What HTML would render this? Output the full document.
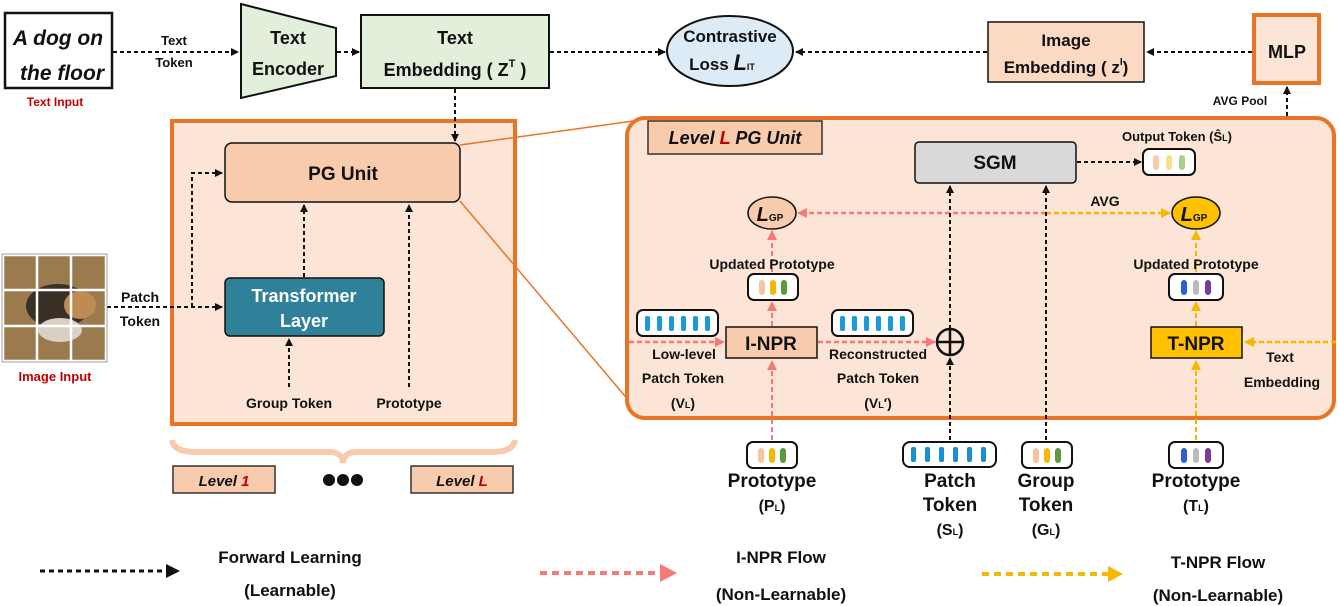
<!DOCTYPE html>
<html><head><meta charset="utf-8"><style>
html,body{margin:0;padding:0;background:#fff}
svg{display:block}
text{font-family:"Liberation Sans",sans-serif;font-weight:bold;fill:#111}
</style></head><body>
<svg width="1339" height="606" viewBox="0 0 1339 606" xmlns="http://www.w3.org/2000/svg">
<defs>
<marker id="ab" markerWidth="8" markerHeight="8" refX="7" refY="4" orient="auto" markerUnits="userSpaceOnUse"><path d="M0,0 L8,4 L0,8z" fill="#111"/></marker>
<marker id="ap" markerWidth="10" markerHeight="10" refX="9" refY="5" orient="auto" markerUnits="userSpaceOnUse"><path d="M0,0 L10,5 L0,10z" fill="#f47a7a"/></marker>
<marker id="ay" markerWidth="10" markerHeight="10" refX="9" refY="5" orient="auto" markerUnits="userSpaceOnUse"><path d="M0,0 L10,5 L0,10z" fill="#f5b800"/></marker>
<g id="tok6"><rect x="0" y="0" width="81" height="26" rx="6" fill="#fff" stroke="#111" stroke-width="2"/>
<g fill="#1a9ad6"><rect x="8" y="6" width="5" height="15" rx="2"/><rect x="20" y="6" width="5" height="15" rx="2"/><rect x="32" y="6" width="5" height="15" rx="2"/><rect x="44" y="6" width="5" height="15" rx="2"/><rect x="56" y="6" width="5" height="15" rx="2"/><rect x="68" y="6" width="5" height="15" rx="2"/></g></g>
<g id="tok3a"><rect x="0" y="0" width="50" height="26" rx="6" fill="#fff" stroke="#111" stroke-width="2"/>
<rect x="11" y="6" width="6" height="15" rx="3" fill="#f5c4a0"/><rect x="22" y="6" width="6" height="15" rx="3" fill="#f5b800"/><rect x="33" y="6" width="6" height="15" rx="3" fill="#5a9a3a"/></g>
<g id="tok3b"><rect x="0" y="0" width="54" height="26" rx="6" fill="#fff" stroke="#111" stroke-width="2"/>
<rect x="12" y="6" width="6" height="15" rx="3" fill="#2f5fd0"/><rect x="24" y="6" width="6" height="15" rx="3" fill="#bbb"/><rect x="36" y="6" width="6" height="15" rx="3" fill="#7a3a9a"/></g>
</defs>

<!-- top row -->
<rect x="5" y="13" width="107" height="75" fill="#fff" stroke="#111" stroke-width="2.5"/>
<text x="58" y="45" font-size="21" font-style="italic" text-anchor="middle">A dog on</text>
<text x="62" y="80" font-size="21" font-style="italic" text-anchor="middle">the floor</text>
<text x="55" y="106" font-size="12" text-anchor="middle" style="fill:#c00000">Text Input</text>
<text x="174" y="45" font-size="13" text-anchor="middle">Text</text>
<text x="174" y="67" font-size="13" text-anchor="middle">Token</text>
<line x1="113" y1="52" x2="238" y2="52" stroke="#111" stroke-width="2" stroke-dasharray="4,3" marker-end="url(#ab)"/>
<path d="M241,4 L336,28 L336,76 L241,98z" fill="#e2efda" stroke="#111" stroke-width="2"/>
<text x="288" y="44" font-size="18" text-anchor="middle">Text</text>
<text x="288" y="75" font-size="18" text-anchor="middle">Encoder</text>
<line x1="337" y1="52" x2="359" y2="52" stroke="#111" stroke-width="2" stroke-dasharray="4,3" marker-end="url(#ab)"/>
<rect x="361" y="15" width="188" height="73" fill="#e2efda" stroke="#111" stroke-width="2"/>
<text x="455" y="44" font-size="18" text-anchor="middle">Text</text>
<text x="455" y="76" font-size="18" text-anchor="middle">Embedding ( Z<tspan font-size="11" dy="-9">T</tspan><tspan dy="9"> )</tspan></text>
<line x1="550" y1="52" x2="665" y2="52" stroke="#111" stroke-width="2" stroke-dasharray="4,3" marker-end="url(#ab)"/>
<ellipse cx="730" cy="51" rx="63" ry="35" fill="#ddebf7" stroke="#111" stroke-width="2"/>
<text x="730" y="42" font-size="17" text-anchor="middle">Contrastive</text>
<text x="722" y="70" font-size="17" text-anchor="middle">Loss <tspan font-size="22" font-style="italic">L</tspan><tspan font-size="9">IT</tspan></text>
<line x1="987" y1="52" x2="796" y2="52" stroke="#111" stroke-width="2" stroke-dasharray="4,3" marker-end="url(#ab)"/>
<rect x="988" y="22" width="156" height="60" fill="#fbd9c2" stroke="#111" stroke-width="1.5"/>
<text x="1066" y="46" font-size="17" text-anchor="middle">Image</text>
<text x="1066" y="73" font-size="17" text-anchor="middle">Embedding ( z<tspan font-size="10" dy="-8">I</tspan><tspan dy="8">)</tspan></text>
<line x1="1252" y1="52" x2="1147" y2="52" stroke="#111" stroke-width="2" stroke-dasharray="4,3" marker-end="url(#ab)"/>
<rect x="1254" y="15" width="65" height="68" fill="#fce5d6" stroke="#e97424" stroke-width="4"/>
<text x="1287" y="58" font-size="18" text-anchor="middle">MLP</text>
<text x="1240" y="105" font-size="12" text-anchor="middle">AVG Pool</text>
<path d="M1196,158 L1287,158 L1287,87" fill="none" stroke="#111" stroke-width="2" stroke-dasharray="4,3" marker-end="url(#ab)"/>

<!-- left block -->
<rect x="172" y="121" width="343" height="303" fill="#fce5d6" stroke="#e97424" stroke-width="4"/>
<line x1="455" y1="89" x2="455" y2="141" stroke="#111" stroke-width="2" stroke-dasharray="4,3" marker-end="url(#ab)"/>
<rect x="225" y="143" width="235" height="59" rx="7" fill="#f8cbad" stroke="#111" stroke-width="1.5"/>
<text x="343" y="180" font-size="19" text-anchor="middle">PG Unit</text>
<rect x="225" y="278" width="159" height="58" rx="5" fill="#2e8199" stroke="#111" stroke-width="1.5"/>
<text x="304" y="302" font-size="18" text-anchor="middle" style="fill:#fff">Transformer</text>
<text x="304" y="327" font-size="18" text-anchor="middle" style="fill:#fff">Layer</text>
<line x1="304" y1="277" x2="304" y2="205" stroke="#111" stroke-width="2" stroke-dasharray="4,3" marker-end="url(#ab)"/>
<line x1="409" y1="387" x2="409" y2="205" stroke="#111" stroke-width="2" stroke-dasharray="4,3" marker-end="url(#ab)"/>
<line x1="289" y1="387" x2="289" y2="339" stroke="#111" stroke-width="2" stroke-dasharray="4,3" marker-end="url(#ab)"/>
<path d="M192,307 L192,173 L222,173" fill="none" stroke="#111" stroke-width="2" stroke-dasharray="4,3" marker-end="url(#ab)"/>
<line x1="107" y1="307" x2="222" y2="307" stroke="#111" stroke-width="2" stroke-dasharray="4,3" marker-end="url(#ab)"/>
<text x="289" y="408" font-size="14" text-anchor="middle">Group Token</text>
<text x="409" y="408" font-size="14" text-anchor="middle">Prototype</text>
<text x="140" y="302" font-size="14" text-anchor="middle">Patch</text>
<text x="140" y="326" font-size="14" text-anchor="middle">Token</text>
<!-- image -->
<rect x="3" y="255" width="103" height="106" fill="#9b7a4e"/>
<ellipse cx="58" cy="306" rx="32" ry="22" fill="#3a3026"/>
<ellipse cx="80" cy="305" rx="16" ry="14" fill="#c08a55"/>
<ellipse cx="60" cy="330" rx="22" ry="12" fill="#d8d0c4"/>
<g stroke="#fff" stroke-width="2.5" fill="none"><rect x="3" y="255" width="103" height="106"/><line x1="37" y1="255" x2="37" y2="361"/><line x1="71" y1="255" x2="71" y2="361"/><line x1="3" y1="290" x2="106" y2="290"/><line x1="3" y1="326" x2="106" y2="326"/></g>
<rect x="2" y="254" width="105" height="108" fill="none" stroke="#888" stroke-width="0.8"/>
<text x="55" y="381" font-size="13" text-anchor="middle" style="fill:#c00000">Image Input</text>
<!-- brace -->
<path d="M172,440 Q174,452 195,452 L330,452 Q342,452 343,463 Q344,452 356,452 L492,452 Q513,452 515,440" fill="none" stroke="#f8cbad" stroke-width="6"/>
<rect x="173" y="466" width="102" height="27" fill="#f8cbad" stroke="#333" stroke-width="1.5"/>
<text x="224" y="486" font-size="15" font-style="italic" text-anchor="middle">Level <tspan style="fill:#c00000">1</tspan></text>
<circle cx="329" cy="480" r="6" fill="#111"/><circle cx="343" cy="480" r="6" fill="#111"/><circle cx="357" cy="480" r="6" fill="#111"/>
<rect x="411" y="466" width="102" height="27" fill="#f8cbad" stroke="#333" stroke-width="1.5"/>
<text x="462" y="486" font-size="15" font-style="italic" text-anchor="middle">Level <tspan style="fill:#c00000">L</tspan></text>

<!-- zoom lines -->
<line x1="460" y1="145" x2="648" y2="119" stroke="#e97424" stroke-width="1.5"/>
<line x1="460" y1="201" x2="630" y2="402" stroke="#e97424" stroke-width="1.5"/>

<!-- right block -->
<rect x="627" y="118" width="707" height="300" rx="18" fill="#fce5d6" stroke="#e97424" stroke-width="4"/>
<rect x="648" y="121" width="174" height="33" fill="#f8cbad" stroke="#333" stroke-width="1.5"/>
<text x="735" y="144" font-size="18" font-style="italic" text-anchor="middle">Level <tspan style="fill:#c00000">L</tspan> PG Unit</text>
<rect x="915" y="142" width="161" height="41" rx="4" fill="#d9d9d9" stroke="#111" stroke-width="1.5"/>
<text x="995" y="169" font-size="19" text-anchor="middle">SGM</text>
<line x1="1077" y1="162" x2="1141" y2="162" stroke="#111" stroke-width="2" stroke-dasharray="4,3" marker-end="url(#ab)"/>
<text x="1177" y="141" font-size="13" text-anchor="middle">Output Token (Ŝ<tspan font-size="9">L</tspan>)</text>
<rect x="1143" y="149" width="52" height="26" rx="6" fill="#fff" stroke="#111" stroke-width="2"/>
<rect x="1153" y="155" width="6" height="15" rx="3" fill="#f8cbad"/><rect x="1166" y="155" width="6" height="15" rx="3" fill="#fbe08a"/><rect x="1179" y="155" width="6" height="15" rx="3" fill="#a9d18e"/>

<!-- LGP -->
<line x1="1046" y1="213" x2="798" y2="213" stroke="#f47a7a" stroke-width="2.5" stroke-dasharray="5,3" marker-end="url(#ap)"/>
<line x1="1046" y1="213" x2="1170" y2="213" stroke="#f5b800" stroke-width="2.5" stroke-dasharray="5,3" marker-end="url(#ay)"/>
<text x="1105" y="206" font-size="14" text-anchor="middle">AVG</text>
<ellipse cx="772" cy="213" rx="24" ry="16" fill="#f8cbad" stroke="#111" stroke-width="1.5"/>
<text x="770" y="221" font-size="20" font-style="italic" text-anchor="middle">L<tspan font-size="10" font-style="normal">GP</tspan></text>
<ellipse cx="1196" cy="213" rx="24" ry="16" fill="#ffc000" stroke="#111" stroke-width="1.5"/>
<text x="1194" y="221" font-size="20" font-style="italic" text-anchor="middle">L<tspan font-size="10" font-style="normal">GP</tspan></text>

<!-- vertical black lines -->
<line x1="950" y1="440" x2="950" y2="358" stroke="#111" stroke-width="2" stroke-dasharray="4,3" marker-end="url(#ab)"/>
<line x1="950" y1="329" x2="950" y2="186" stroke="#111" stroke-width="2" stroke-dasharray="4,3" marker-end="url(#ab)"/>
<line x1="1046" y1="440" x2="1046" y2="186" stroke="#111" stroke-width="2" stroke-dasharray="4,3" marker-end="url(#ab)"/>

<!-- I-NPR column -->
<line x1="772" y1="440" x2="772" y2="361" stroke="#f47a7a" stroke-width="2" stroke-dasharray="5,3" marker-end="url(#ap)"/>
<line x1="772" y1="326" x2="772" y2="302" stroke="#f47a7a" stroke-width="2" stroke-dasharray="5,3" marker-end="url(#ap)"/>
<line x1="772" y1="272" x2="772" y2="231" stroke="#f47a7a" stroke-width="2" stroke-dasharray="5,3" marker-end="url(#ap)"/>
<line x1="629" y1="342" x2="724" y2="342" stroke="#f47a7a" stroke-width="2.5" stroke-dasharray="5,3" marker-end="url(#ap)"/>
<line x1="818" y1="342" x2="935" y2="342" stroke="#f47a7a" stroke-width="2.5" stroke-dasharray="5,3" marker-end="url(#ap)"/>
<text x="772" y="269" font-size="14" text-anchor="middle">Updated Prototype</text>
<use href="#tok3a" x="748" y="274"/>
<rect x="726" y="327" width="91" height="31" fill="#f8cbad" stroke="#111" stroke-width="1.5"/>
<text x="771" y="350" font-size="19" text-anchor="middle">I-NPR</text>
<use href="#tok6" x="637" y="310"/>
<use href="#tok6" x="832" y="310"/>
<circle cx="950" cy="342" r="13" fill="none" stroke="#111" stroke-width="2.5"/>
<line x1="937" y1="342" x2="963" y2="342" stroke="#111" stroke-width="2.5"/><line x1="950" y1="329" x2="950" y2="355" stroke="#111" stroke-width="2.5"/>
<text x="684" y="359" font-size="14" text-anchor="middle">Low-level</text>
<text x="683" y="383" font-size="14" text-anchor="middle">Patch Token</text>
<text x="683" y="408" font-size="14" text-anchor="middle" font-weight="normal">(V<tspan font-size="9">L</tspan>)</text>
<text x="878" y="359" font-size="14" text-anchor="middle">Reconstructed</text>
<text x="878" y="383" font-size="14" text-anchor="middle">Patch Token</text>
<text x="878" y="408" font-size="14" text-anchor="middle" font-weight="normal">(V<tspan font-size="9">L</tspan>′)</text>

<!-- T-NPR column -->
<line x1="1196" y1="440" x2="1196" y2="361" stroke="#f5b800" stroke-width="2" stroke-dasharray="5,3" marker-end="url(#ay)"/>
<line x1="1196" y1="326" x2="1196" y2="302" stroke="#f5b800" stroke-width="2" stroke-dasharray="5,3" marker-end="url(#ay)"/>
<line x1="1196" y1="272" x2="1196" y2="231" stroke="#f5b800" stroke-width="2" stroke-dasharray="5,3" marker-end="url(#ay)"/>
<line x1="1336" y1="342" x2="1245" y2="342" stroke="#f5b800" stroke-width="2.5" stroke-dasharray="5,3" marker-end="url(#ay)"/>
<text x="1196" y="269" font-size="14" text-anchor="middle">Updated Prototype</text>
<use href="#tok3b" x="1169" y="274"/>
<rect x="1151" y="327" width="91" height="31" fill="#ffc000" stroke="#111" stroke-width="1.5"/>
<text x="1196" y="350" font-size="19" text-anchor="middle">T-NPR</text>
<text x="1280" y="362" font-size="14" text-anchor="middle">Text</text>
<text x="1282" y="387" font-size="14" text-anchor="middle">Embedding</text>

<!-- bottom inputs -->
<use href="#tok3a" x="747" y="442"/>
<text x="772" y="487" font-size="19" text-anchor="middle">Prototype</text>
<text x="772" y="511" font-size="16" text-anchor="middle" font-weight="normal">(P<tspan font-size="9">L</tspan>)</text>
<rect x="903" y="442" width="93" height="25" rx="7" fill="#fff" stroke="#111" stroke-width="2"/>
<g fill="#1a8fd0"><rect x="911" y="447" width="5" height="15" rx="2"/><rect x="925" y="447" width="5" height="15" rx="2"/><rect x="939" y="447" width="5" height="15" rx="2"/><rect x="953" y="447" width="5" height="15" rx="2"/><rect x="967" y="447" width="5" height="15" rx="2"/><rect x="981" y="447" width="5" height="15" rx="2"/></g>
<text x="950" y="487" font-size="19" text-anchor="middle">Patch</text>
<text x="950" y="511" font-size="19" text-anchor="middle">Token</text>
<text x="950" y="535" font-size="16" text-anchor="middle" font-weight="normal">(S<tspan font-size="9">L</tspan>)</text>
<use href="#tok3a" x="1022" y="442"/>
<text x="1046" y="487" font-size="19" text-anchor="middle">Group</text>
<text x="1046" y="511" font-size="19" text-anchor="middle">Token</text>
<text x="1046" y="535" font-size="16" text-anchor="middle" font-weight="normal">(G<tspan font-size="9">L</tspan>)</text>
<use href="#tok3b" x="1169" y="442"/>
<text x="1196" y="487" font-size="19" text-anchor="middle">Prototype</text>
<text x="1196" y="511" font-size="16" text-anchor="middle" font-weight="normal">(T<tspan font-size="9">L</tspan>)</text>

<!-- legend -->
<line x1="40" y1="571" x2="170" y2="571" stroke="#111" stroke-width="3" stroke-dasharray="5,4"/>
<path d="M166,564 L180,571 L166,578z" fill="#111"/>
<text x="290" y="563" font-size="17" text-anchor="middle">Forward Learning</text>
<text x="290" y="596" font-size="17" text-anchor="middle">(Learnable)</text>
<line x1="540" y1="573" x2="662" y2="573" stroke="#f47a7a" stroke-width="4" stroke-dasharray="7,5"/>
<path d="M660,564 L677,573 L660,582z" fill="#f47a7a"/>
<text x="781" y="563" font-size="17" text-anchor="middle">I-NPR Flow</text>
<text x="781" y="600" font-size="17" text-anchor="middle">(Non-Learnable)</text>
<line x1="982" y1="574" x2="1110" y2="574" stroke="#f5b800" stroke-width="4" stroke-dasharray="7,5"/>
<path d="M1108,566 L1123,574 L1108,582z" fill="#f5b800"/>
<text x="1218" y="568" font-size="17" text-anchor="middle">T-NPR Flow</text>
<text x="1218" y="601" font-size="17" text-anchor="middle">(Non-Learnable)</text>
</svg>
</body></html>
